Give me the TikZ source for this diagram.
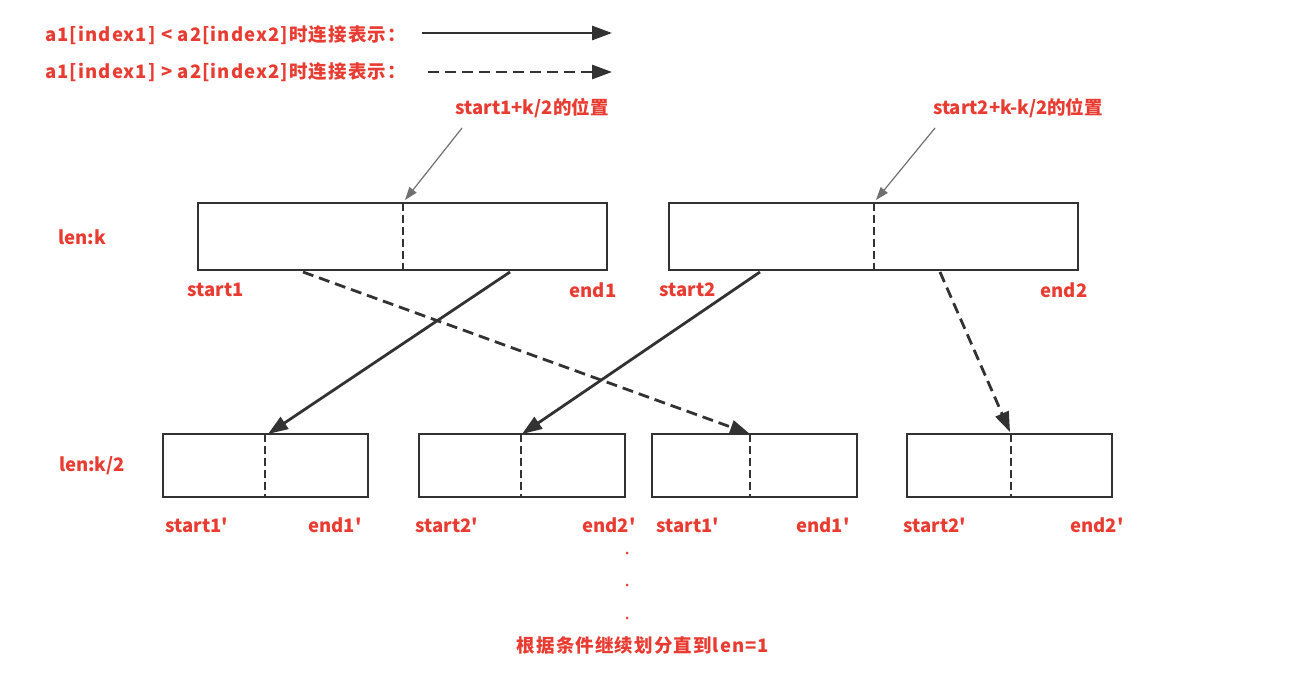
\documentclass[tikz,border=0pt]{standalone}
\usepackage{fontspec}
\setmainfont{Noto Sans CJK SC}
\usetikzlibrary{arrows.meta}
\definecolor{lbl}{RGB}{232,60,50}
\definecolor{ln}{RGB}{50,50,50}
\newcommand{\qq}{\textquotesingle}
\begin{document}
\begin{tikzpicture}[x=1pt,y=-1pt,
 t/.style={text=lbl,font=\fontsize{18.5}{21}\selectfont\bfseries,inner sep=0},
 w/.style={t,font=\fontsize{18.5}{21}\selectfont\bfseries\addfontfeatures{LetterSpace=6}},
 box/.style={draw=ln,line width=2.3pt},
 div/.style={draw=ln,line width=2.3pt,dash pattern=on 8pt off 4pt},
 sa/.style={draw=ln,line width=2.8pt,-{Triangle[length=20pt,width=14pt]}},
 da/.style={sa,dash pattern=on 11pt off 6pt},
 pa/.style={draw=ln!70,line width=1.2pt,-{Triangle[length=13pt,width=9pt]}}]
\useasboundingbox (0,0) rectangle (1306,696);
\node[w,anchor=west] (l1) at (45,35) {a1[index1] < a2[index2]时连接表示：};
\node[w,anchor=west] (l2) at (45,72) {a1[index1] > a2[index2]时连接表示：};
\coordinate (s1) at (422,33); \coordinate (e1) at (612,33);
\coordinate (s2) at (428,72); \coordinate (e2) at (612,72);
\draw[sa] (s1)--(e1); \draw[da] (s2)--(e2);
\node[t] (p1) at (532,108) {start1+k/2的位置};
\node[t] (p2) at (1018,108) {start2+k-k/2的位置};
\draw[box] (198,203) rectangle (607,270); \draw[div] (403,203)--(403,270);
\draw[box] (669,203) rectangle (1078,270); \draw[div] (874,203)--(874,270);
\coordinate (q1) at (405,200); \coordinate (q2) at (876,200);
\draw[pa] (462,128)--(q1); \draw[pa] (935,128)--(q2);
\node[t] (lk) at (82,237) {len:k};
\node[t] (lk2) at (92,466) {len:k/2};
\node[t] at (216,290) {start1}; \node[t] at (593,290) {end1};
\node[t] at (688,290) {start2}; \node[t] at (1064,290) {end2};
\foreach \a/\b/\d in {163/368/265,419/625/521,652/857/750,907/1112/1011}{
 \draw[box] (\a,434) rectangle (\b,497); \draw[div] (\d,434)--(\d,497);}
\foreach \x/\s in {197/start1\qq,335/end1\qq,447/start2\qq,609/end2\qq,688/start1\qq,823/end1\qq,935/start2\qq,1097/end2\qq}
 \node[t] at (\x,525) {\s};
\foreach \y in {553,585,618} \fill[lbl] (627,\y) circle (1.5);
\node[w] at (643,645) {根据条件继续划分直到len=1};
\coordinate (a1) at (510,272); \coordinate (b1) at (268,434);
\coordinate (a2) at (760,272); \coordinate (b2) at (522,434);
\coordinate (a3) at (303,272); \coordinate (b3) at (750,434);
\coordinate (a4) at (940,272); \coordinate (b4) at (1010,432);
\draw[sa] (a1)--(b1); \draw[sa] (a2)--(b2);
\draw[da] (a3)--(b3); \draw[da] (a4)--(b4);
\end{tikzpicture}
\end{document}
